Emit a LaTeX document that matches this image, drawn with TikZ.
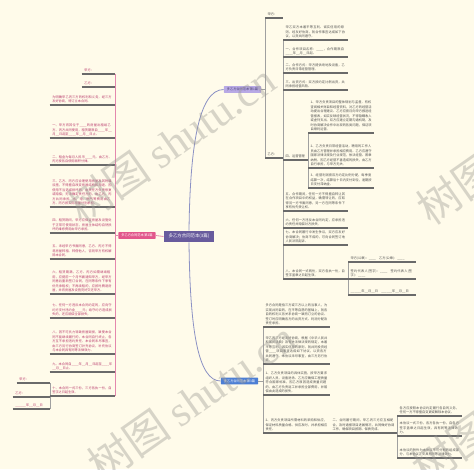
\documentclass[tikz,border=0pt]{standalone}
\usepackage{fontspec}
\setmainfont{Noto Sans CJK SC}
\newfontfamily\wmfont{Liberation Serif}
\XeTeXlinebreaklocale "zh"
\XeTeXlinebreakskip = 0pt plus 1pt
\definecolor{paper}{HTML}{FFFBEA}
\definecolor{rootc}{HTML}{685B9D}
\definecolor{onec}{HTML}{B8A9E5}
\definecolor{twoc}{HTML}{E2578B}
\definecolor{threec}{HTML}{4C7ED4}
\definecolor{linkc}{HTML}{8C92C4}
\definecolor{trunkc}{HTML}{A0A0A0}
\definecolor{pinkc}{HTML}{E488AD}
\definecolor{ulinec}{HTML}{6A6A6A}
\definecolor{redtxt}{HTML}{B93A6C}
\definecolor{graytxt}{HTML}{505050}
\definecolor{wmgray}{HTML}{9C9A94}
\newcommand\blk{\_\_\_\_}
\newcommand\bk{\_\_}

\begin{document}
\begin{tikzpicture}[x=1pt,y=-1pt,
    mini/.style={font=\fontsize{3.2}{4.5}\selectfont},
    leaf/.style={mini, text=graytxt, align=left, inner xsep=2.5pt, inner ysep=1.6pt, text width=#1},
    lleaf/.style={leaf=#1, text=redtxt, anchor=south east},
    rleaf/.style={leaf=#1, anchor=south west},
    branch/.style={mini, inner xsep=3pt, inner ysep=1.8pt, rounded corners=0.5pt},
    uline/.style={draw=ulinec, line width=1.1pt},
    gtrunk/.style={draw=trunkc, line width=0.7pt},
    ptrunk/.style={draw=pinkc, line width=0.8pt},
    link/.style={draw=linkc, line width=0.8pt},
    wmark/.style={text=wmgray, opacity=0.4, font=\fontsize{43}{43}\selectfont, rotate=35, inner sep=0pt}]

    \fill[paper] (0,0) rectangle (474,469);
    \useasboundingbox (0,0) rectangle (474,469);

    % centre and the three parts
    \node[fill=rootc, text=white, font=\fontsize{4.4}{5}\selectfont, inner xsep=5pt, inner ysep=3.3pt] (root) at (189,236.5) {多乙方合同范本(3篇)};
    \node[branch, fill=onec, text=rootc!70!black] (b_1) at (242.5,89.5) {多乙方合同范本 第1篇};
    \node[branch, fill=twoc, text=white] (b_2) at (137,235.5) {多乙方合同范本 第2篇};
    \node[branch, fill=threec, text=white] (b_3) at (239.5,381) {多乙方合同范本 第3篇};

    % part 2 (left)
    \node[lleaf=28] (l_1) at (115,74) {甲方：};
    \node[lleaf=28] (l_2) at (115,87) {乙方：};
    \node[lleaf=60] (l_3) at (115,105) {为明确甲乙丙三方的权利和义务，经三方友好协商，特订立本合同。};
    \node[lleaf=60] (l_4) at (115,138) {一、甲方将其位于\blk 的房屋出租给乙方、丙方共同使用，租赁期限自\blk 年\bk 月\bk 日起至\blk 年\bk 月\bk 日止。};
    \node[lleaf=60] (l_5) at (115,165) {二、租金为每月人民币\blk 元，由乙方、丙方按各自使用面积分摊。};
    \node[lleaf=60] (l_6) at (115,207) {三、乙方、丙方应合理使用房屋及其附属设施，不得擅自改变房屋结构和用途。因使用不当造成损坏的，由责任方负责修复或赔偿；无法确定责任方的，由乙方、丙方共同承担。水、电、燃气等费用由乙方、丙方按实际用量分别承担。};
    \node[lleaf=60] (l_7) at (115,233) {四、租赁期间，甲方应保证房屋及设施处于正常可使用状态，房屋主体结构自然损坏的维修费用由甲方承担。};
    \node[lleaf=60] (l_8) at (115,259) {五、未经甲方书面同意，乙方、丙方不得将房屋转租、转借他人，否则甲方有权解除本合同。};
    \node[lleaf=60] (l_9) at (115,294) {六、租赁期满，乙方、丙方如需继续租用，应提前一个月书面通知甲方，经甲方同意后重新签订合同，在同等条件下享有优先承租权；不再续租的，应按时腾退房屋，并将房屋及设施完好交还甲方。};
    \node[lleaf=60] (l_10) at (115,318) {七、任何一方违反本合同约定的，应向守约方支付违约金\blk 元；给守约方造成损失的，还应赔偿全部损失。};
    \node[lleaf=60] (l_11) at (115,354) {八、因不可抗力导致房屋毁损，致使本合同不能继续履行的，本合同自行终止，各方互不承担违约责任。本合同未尽事宜，由三方另行协商签订补充协议，补充协议与本合同具有同等法律效力。};
    \node[lleaf=60] (l_12) at (115,372) {九、本合同自\blk 年\bk 月\bk 日起至\blk 年\bk 月\bk 日止。};
    \node[lleaf=60] (l_13) at (115,396) {十、本合同一式三份，三方各执一份，自签字之日起生效。};
    \node[lleaf=28] (m_1) at (50,383) {甲方：};
    \node[lleaf=32] (m_2) at (50,397) {乙方：};
    \node[lleaf=32] (m_3) at (50,409) {\blk\bk 年\bk 月\bk 日};

    % part 1 (top right)
    \node[rleaf=13] (r_1) at (265,18) {甲方：};
    \node[rleaf=13] (r_2) at (265,158) {乙方：};
    \node[rleaf=60] (s_1) at (283,40) {甲乙双方本着平等互利、诚实信用的原则，经友好协商，就合作事宜达成如下协议，以资共同遵守。};
    \node[rleaf=60] (s_2) at (283,57) {一、合作项目名称：\blk ，合作期限自\blk 年\bk 月\bk 日起。};
    \node[rleaf=60] (s_3) at (283,73) {二、合作方式：甲方提供场地及设备，乙方负责日常经营管理。};
    \node[rleaf=60] (s_4) at (283,90) {三、出资方式：双方按约定比例出资，共同承担经营风险。};
    \node[rleaf=20] (s_5) at (283,160) {四、运营管理};
    \node[rleaf=61] (t_1) at (308,133) {1、甲方负责项目的整体规划与监督，有权查阅相关账目和经营资料，对乙方的经营活动提出合理建议。乙方应按月向甲方报送经营报表，如实反映经营状况，不得隐瞒收入或虚列支出。双方应建立定期沟通机制，及时协商解决合作中出现的各类问题，保证项目顺利运营。};
    \node[rleaf=61] (t_2) at (308,168) {2、乙方负责日常经营活动，聘用的工作人员由乙方管理并承担相应费用。乙方应遵守国家法律法规及行业规范，依法经营、照章纳税。因乙方经营不善造成的损失，由乙方自行承担，与甲方无关。};
    \node[rleaf=61] (t_3) at (308,188) {3、经营利润按双方约定比例分配，每季度结算一次，结算后十日内支付到位，逾期按日支付滞纳金。};
    \node[rleaf=60] (s_6) at (283,211) {五、合作期间，任何一方不得擅自转让其在合作项目中的权益，确需转让的，应取得另一方书面同意，另一方在同等条件下享有优先受让权。};
    \node[rleaf=60] (s_7) at (283,228) {六、任何一方违反本合同约定，应承担违约责任并赔偿对方损失。};
    \node[rleaf=60] (s_8) at (283,245) {七、本合同履行中发生争议，双方应友好协商解决；协商不成的，可向合同签订地人民法院起诉。};
    \node[rleaf=60] (s_9) at (283,279) {八、本合同一式两份，双方各执一份，自签字盖章之日起生效。};
    \node[rleaf=63] (u_1) at (348,262) {甲方(公章)：\blk\quad 乙方(公章)：\blk};
    \node[rleaf=63] (u_2) at (348,279) {签约代表人(签字)：\blk\quad 签约代表人(签字)：\blk};
    \node[rleaf=63] (u_3) at (348,295) {\blk\bk 年\bk 月\bk 日\quad\blk\bk 年\bk 月\bk 日};

    % part 3 (bottom right)
    \node[rleaf=62] (v_1) at (263,327) {多方合同是指三方或三方以上的当事人，为实现共同目的，在平等自愿的基础上，就各自的权利义务关系协商一致而订立的协议。签订时应明确各方的出资方式、利润分配及责任承担。};
    \node[rleaf=62] (v_2) at (263,364) {甲乙丙三方经友好协商，根据《中华人民共和国民法典》及有关法律法规的规定，本着平等互利、诚实信用的原则，就共同投资经营\blk 项目事宜达成如下协议，以资各方共同遵守。本协议未尽事宜，由三方另行协商。};
    \node[rleaf=62] (v_3) at (263,395) {1、乙方负责项目的具体实施，按甲方要求组织人员、设备进场。乙方应确保工程质量符合国家标准，因乙方原因造成质量问题的，由乙方负责返工并承担全部费用，并赔偿由此造成的损失。};
    \node[rleaf=62] (v_4) at (263,433) {2、丙方负责项目所需材料的采购和供应，保证材料质量合格、供应及时，并承担相应责任。};
    \node[rleaf=62] (w_1) at (330,433) {二、合同履行期间，甲乙丙三方应互相配合，及时通报项目进展情况，共同做好协调工作，确保项目按期、保质完成。};
    \node[rleaf=60] (x_1) at (397,416) {各方应按照本协议约定履行各自的义务，任何一方不得擅自变更或解除本协议。};
    \node[rleaf=60] (x_2) at (397,436) {本协议一式三份，各方各执一份，自各方签字盖章之日起生效，具有同等法律效力。};
    \node[rleaf=60] (x_3) at (397,458) {本协议的附件为本协议不可分割的组成部分，与本协议正文具有同等法律效力。};

    % connectors
    \draw[link] (root.north) .. controls (190,150) and (198,89.5) .. (b_1.west);
    \draw[link] (root.south) .. controls (190,330) and (198,381) .. (b_3.west);
    \draw[ptrunk] (root.west) -- (b_2.east);
    \draw[ptrunk] (b_2.west) -- (b_2.west -| l_1.south east);
    \draw[ptrunk] (l_1.south east) -- (l_13.south east);
    \draw[gtrunk] (m_1.south east) -- (m_3.south east);
    \draw[gtrunk] (b_1.east) -- (b_1.east -| r_1.south west);
    \draw[gtrunk] (r_1.south west) -- (r_2.south west);
    \draw[gtrunk] (s_1.south west) -- (s_9.south west);
    \draw[gtrunk] (t_1.south west) -- (t_3.south west);
    \draw[gtrunk] (u_1.south west) -- (u_3.south west);
    \draw[gtrunk] (b_3.east) -- (b_3.east -| v_1.south west);
    \draw[gtrunk] (v_1.south west) -- (v_4.south west);
    \draw[gtrunk] (x_1.south west) -- (x_3.south west);
    \foreach \n in {l_1,l_2,l_3,l_4,l_5,l_6,l_7,l_8,l_9,l_10,l_11,l_12,l_13,m_1,m_2,m_3,
        r_1,r_2,s_1,s_2,s_3,s_4,s_5,s_6,s_7,s_8,s_9,t_1,t_2,t_3,u_1,u_2,u_3,
        v_1,v_2,v_3,v_4,w_1,x_1,x_2,x_3}
        \draw[uline] (\n.south west) -- (\n.south east);

    % watermark
    \node[wmark] (wm_1) at (171,143) {树图 {\wmfont shutu.cn}};
    \node[wmark] (wm_2) at (191,401) {树图 {\wmfont shutu.cn}};
    \node[wmark] (wm_3) at (457,188) {树图};
    \node[wmark] (wm_4) at (452,448) {树图};
\end{tikzpicture}
\end{document}
